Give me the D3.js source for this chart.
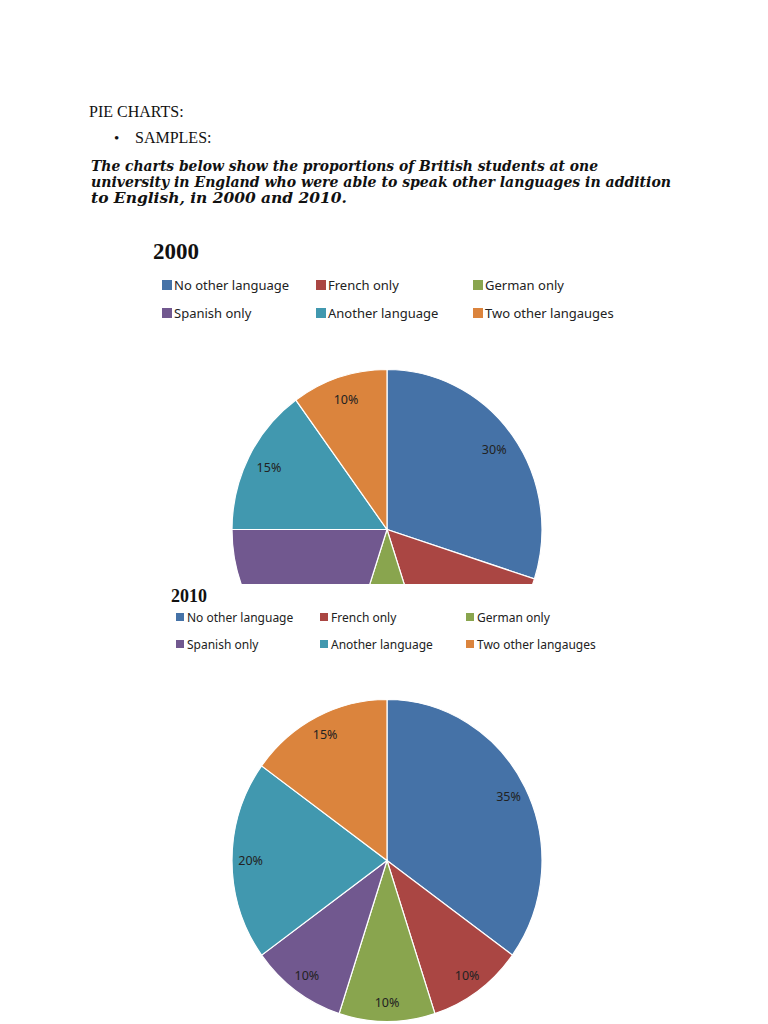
<!DOCTYPE html>
<html>
<head>
<meta charset="utf-8">
<script src="https://cdn.jsdelivr.net/npm/d3@7"></script>
<style>
  body { margin: 0; background: #fff; }
  svg { display: block; }
</style>
</head>
<body>
<svg id="chart" width="768" height="1024"></svg>
<script>
// data
const categories = ["No other language", "French only", "German only",
                    "Spanish only", "Another language", "Two other langauges"];
const values2000 = [30, 15, 10, 20, 15, 10];
const values2010 = [35, 10, 10, 10, 20, 15];
const colors = ["#4572A7", "#AA4643", "#89A54E", "#71588F", "#4198AF", "#DB843D"];

const introLines = [
  "The charts below show the proportions of British students at one",
  "university in England who were able to speak other languages in addition",
  "to English, in 2000 and 2010."
];

const svg = d3.select("#chart");
svg.append("rect").attr("width", 768).attr("height", 1024).attr("fill", "#fff");

// page text above the charts
svg.append("text")
  .attr("x", 89).attr("y", 117)
  .attr("font-family", "Liberation Serif").attr("font-size", 16)
  .attr("fill", "#111")
  .text("PIE CHARTS:");

svg.append("text")
  .attr("x", 114).attr("y", 143)
  .attr("font-family", "Liberation Serif").attr("font-size", 15)
  .attr("fill", "#111")
  .text("\u2022");

svg.append("text")
  .attr("x", 135).attr("y", 143)
  .attr("font-family", "Liberation Serif").attr("font-size", 16)
  .attr("fill", "#111")
  .text("SAMPLES:");

const introWidths = [507, 580, 256];
svg.selectAll(".intro")
  .data(introLines)
  .enter().append("text")
  .attr("class", "intro")
  .attr("x", 91)
  .attr("y", (d, i) => 171 + i * 16)
  .attr("font-family", "DejaVu Serif").attr("font-size", 15)
  .attr("font-weight", "bold").attr("font-style", "italic")
  .attr("fill", "#111")
  .attr("textLength", (d, i) => introWidths[i])
  .attr("lengthAdjust", "spacingAndGlyphs")
  .text(d => d);

const charts = [
  {
    year: "2000", values: values2000,
    cx: 387, cy: 529.5, rx: 155, ry: 160, labelR: 0.855, clipBottom: 584,
    title: { x: 153, y: 259, size: 23 },
    legend: { x: 162, y: 280, cols: [0, 154, 311], rowGap: 28, sq: 10, font: 13, gap: 12 }
  },
  {
    year: "2010", values: values2010,
    cx: 387, cy: 860.5, rx: 155, ry: 161, labelR: 0.88, clipBottom: null,
    title: { x: 171, y: 602, size: 18 },
    legend: { x: 176, y: 613, cols: [0, 144, 290], rowGap: 27, sq: 8, font: 12, gap: 11 }
  }
];

const pie = d3.pie().sort(null).value(d => d);

charts.forEach((c, ci) => {
  const g = svg.append("g");

  if (c.clipBottom) {
    svg.append("clipPath").attr("id", "clip" + ci)
      .append("rect")
      .attr("x", 0).attr("y", 0)
      .attr("width", 768).attr("height", c.clipBottom);
    g.attr("clip-path", `url(#clip${ci})`);
  }

  const arcs = pie(c.values);
  const sy = c.ry / c.rx;
  const arc = d3.arc().innerRadius(0).outerRadius(c.rx);
  const labelArc = d3.arc().innerRadius(c.rx * c.labelR).outerRadius(c.rx * c.labelR);

  g.append("g")
    .attr("transform", `translate(${c.cx},${c.cy}) scale(1,${sy})`)
    .selectAll("path")
    .data(arcs)
    .enter().append("path")
    .attr("d", arc)
    .attr("fill", (d, i) => colors[i])
    .attr("stroke", "#fff")
    .attr("stroke-width", 1.2)
    .attr("vector-effect", "non-scaling-stroke");

  // labels hidden under the next chart are not drawn
  const visible = arcs.filter(d =>
    !c.clipBottom || c.cy + labelArc.centroid(d)[1] * sy + 7 < c.clipBottom);

  g.append("g")
    .attr("transform", `translate(${c.cx},${c.cy})`)
    .selectAll("text")
    .data(visible)
    .enter().append("text")
    .attr("x", d => labelArc.centroid(d)[0])
    .attr("y", d => labelArc.centroid(d)[1] * sy)
    .attr("text-anchor", "middle")
    .attr("dominant-baseline", "central")
    .attr("font-family", "Noto Sans").attr("font-size", 12.5)
    .attr("fill", "#222")
    .text(d => d.data + "%");

  // year title
  svg.append("text")
    .attr("x", c.title.x).attr("y", c.title.y)
    .attr("font-family", "Liberation Serif").attr("font-weight", "bold")
    .attr("font-size", c.title.size)
    .attr("fill", "#111")
    .text(c.year);

  // legend, 3 columns x 2 rows
  const L = c.legend;
  const items = svg.append("g").selectAll("g")
    .data(categories)
    .enter().append("g")
    .attr("transform", (d, i) => `translate(${L.x + L.cols[i % 3]},${L.y + Math.floor(i / 3) * L.rowGap})`);

  items.append("rect")
    .attr("width", L.sq).attr("height", L.sq)
    .attr("fill", (d, i) => colors[i]);

  items.append("text")
    .attr("x", L.gap)
    .attr("y", L.sq / 2)
    .attr("dominant-baseline", "central")
    .attr("font-family", "Noto Sans").attr("font-size", L.font)
    .attr("fill", "#222")
    .text(d => d);
});
</script>
</body>
</html>
